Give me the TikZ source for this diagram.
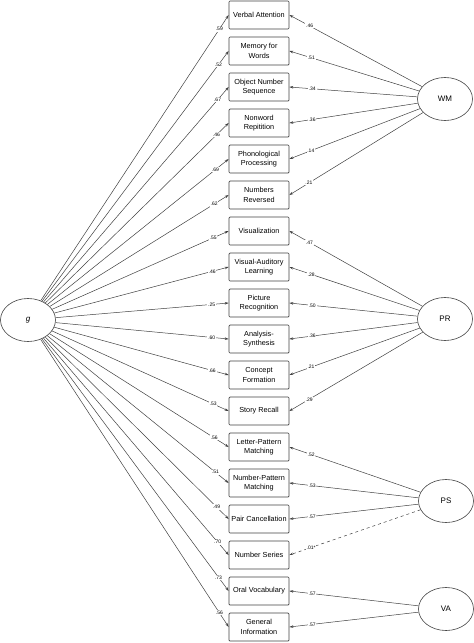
\documentclass[tikz,border=0pt]{standalone}
\usepackage{fontspec}
\setmainfont{Liberation Sans}
\usetikzlibrary{positioning}
\usetikzlibrary{calc}
\usetikzlibrary{arrows.meta}
\definecolor{linegray}{rgb}{0.25, 0.25, 0.25}
\tikzstyle{test} = [rectangle, rounded corners=1pt, draw=linegray, line width=0.7pt, minimum width=60pt, minimum height=28pt, inner sep=1pt, align=center, font=\fontsize{7.3}{9.5}\selectfont]
\tikzstyle{factor} = [ellipse, draw=linegray, line width=0.6pt, minimum width=55pt, minimum height=43pt, font=\fontsize{8}{10}\selectfont]
\tikzstyle{load} = [line width=0.5pt, draw=linegray, -{Stealth[length=4pt,width=2.6pt]}]
\tikzstyle{coef} = [fill=white, inner sep=0.8pt, font=\fontsize{5}{6}\selectfont]
\usetikzlibrary{shapes.geometric}

\begin{document}
\begin{tikzpicture}[x=1pt, y=-1pt]
\useasboundingbox (0,0) rectangle (474,643);
% factors
\node[factor] (g) at (28,320) {\itshape g};
\node[factor] (wm) at (445,99) {WM};
\node[factor] (pr) at (445,319) {PR};
\node[factor] (ps) at (446,501) {PS};
\node[factor] (va) at (446,609) {VA};
% tests
\node[test] (b1) at (259,15) {Verbal Attention};
\node[test] (b2) at (259,51) {Memory for\\Words};
\node[test] (b3) at (259,87) {Object Number\\Sequence};
\node[test] (b4) at (259,123) {Nonword\\Repitition};
\node[test] (b5) at (259,159) {Phonological\\Processing};
\node[test] (b6) at (259,195) {Numbers\\Reversed};
\node[test] (b7) at (259,231) {Visualization};
\node[test] (b8) at (259,267) {Visual-Auditory\\Learning};
\node[test] (b9) at (259,303) {Picture\\Recognition};
\node[test] (b10) at (259,339) {Analysis-\\Synthesis};
\node[test] (b11) at (259,375) {Concept\\Formation};
\node[test] (b12) at (259,411) {Story Recall};
\node[test] (b13) at (259,447) {Letter-Pattern\\Matching};
\node[test] (b14) at (259,483) {Number-Pattern\\Matching};
\node[test] (b15) at (259,519) {Pair Cancellation};
\node[test] (b16) at (259,555) {Number Series};
\node[test] (b17) at (259,591) {Oral Vocabulary};
\node[test] (b18) at (259,627) {General\\Information};
% g loadings
\foreach \b/\v in {b1/.59, b2/.52, b3/.67, b4/.46, b5/.69, b6/.62, b7/.55, b8/.46, b9/.25,
  b10/.60, b11/.66, b12/.53, b13/.56, b14/.51, b15/.49, b16/.70, b17/.73, b18/.56}{
  \draw[load] (g) -- (\b.west);
  \node[coef] at ($(\b.west)!17pt!(g)$) {\v};
}
% group loadings
\foreach \f/\b/\v in {wm/b1/.46, wm/b2/.51, wm/b3/.34, wm/b4/.36, wm/b5/.14, wm/b6/.21,
  pr/b7/.47, pr/b8/.28, pr/b9/.50, pr/b10/.36, pr/b11/.21, pr/b12/.29,
  ps/b13/.52, ps/b14/.53, ps/b15/.57, va/b17/.57, va/b18/.57}{
  \draw[load] (\f) -- (\b.east);
  \node[coef] at ($(\b.east)!23pt!(\f)$) {\v};
}
\draw[load, dashed] (ps) -- (b16.east);
\node[coef] at ($(b16.east)!23pt!(ps)$) {.01*};
\end{tikzpicture}
\end{document}
